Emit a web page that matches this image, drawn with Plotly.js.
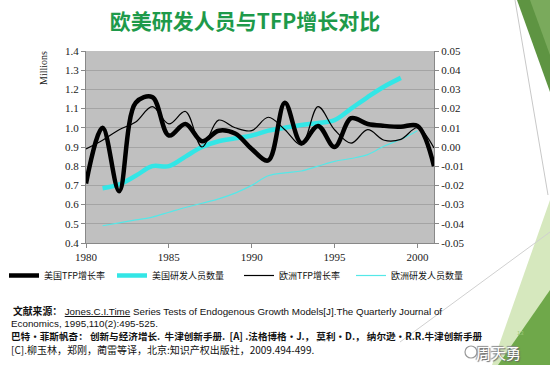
<!DOCTYPE html>
<html><head><meta charset="utf-8">
<script src="https://cdn.plot.ly/plotly-3.0.1.min.js"></script>
<style>html,body{margin:0;padding:0;background:#fff}#c{width:550px;height:365px}</style>
</head><body><div id="c"></div>
<script>
// Years
const years = [1980,1981,1982,1983,1984,1985,1986,1987,1988,1989,1990,1991,1992,1993,1994,1995,1996,1997,1998,1999,2000,2001];
// US TFP growth rate (right axis)
const usTFP = [-0.019,0.010,-0.023,0.023,0.026,0.006,0.012,0.003,0.0085,0.007,-0.001,-0.007,0.023,0.002,0.011,0.000,0.015,0.012,0.011,0.0105,0.011,-0.010];
// EU TFP growth rate (right axis)
const euTFP = [-0.001,0.0035,0.009,0.013,0.021,0.012,0.0185,0.000,0.014,0.010,0.0085,0.0155,0.009,0.001,0.021,0.009,0.002,0.009,0.0035,0.004,0.010,-0.0005];
// US R&D personnel (millions, left axis) 1981-1999
const usRDyears = [1981,1982,1983,1984,1985,1986,1987,1988,1989,1990,1991,1992,1993,1994,1995,1996,1997,1998,1999];
const usRD = [0.685,0.705,0.75,0.80,0.80,0.85,0.90,0.93,0.945,0.96,0.985,1.0,1.015,1.025,1.04,1.10,1.16,1.215,1.26];
// EU R&D personnel (millions, left axis) 1981-2000
const euRDyears = [1981,1982,1983,1984,1985,1986,1987,1988,1989,1990,1991,1992,1993,1994,1995,1996,1997,1998,1999,2000];
const euRD = [0.49,0.505,0.52,0.535,0.56,0.585,0.607,0.63,0.66,0.70,0.75,0.765,0.775,0.80,0.825,0.84,0.86,0.905,0.94,0.985];
// Legend names
const names = ['美国TFP增长率','美国研发人员数量','欧洲TFP增长率','欧洲研发人员数量'];
const leftTicks = [0.4,0.5,0.6,0.7,0.8,0.9,1.0,1.1,1.2,1.3,1.4];
const rightTicks = [-0.05,-0.04,-0.03,-0.02,-0.01,0,0.01,0.02,0.03,0.04,0.05];
const xTicks = [1980,1985,1990,1995,2000];

const sp = {shape:'spline', smoothing:1};
const traces = [
  {x:years, y:usTFP, yaxis:'y2', name:names[0], legend:'legend', mode:'lines', line:Object.assign({color:'#000000', width:4.5}, sp)},
  {x:usRDyears, y:usRD, yaxis:'y', name:names[1], legend:'legend2', mode:'lines', line:Object.assign({color:'#33E6E6', width:4.5}, sp)},
  {x:years, y:euTFP, yaxis:'y2', name:names[2], legend:'legend3', mode:'lines', line:Object.assign({color:'#000000', width:1.2}, sp)},
  {x:euRDyears, y:euRD, yaxis:'y', name:names[3], legend:'legend4', mode:'lines', line:Object.assign({color:'#55E8E8', width:1.2}, sp)}
];

const serif = {family:'Liberation Serif, serif', size:11, color:'#222'};
const cjk = 'Noto Sans CJK SC, sans-serif';
function px(x){return (x-86)/348;}
function py(y){return (243-y)/192;}
function path(pts){return 'M'+pts.map(p=>px(p[0])+','+py(p[1])).join(' L')+' Z';}
function leg(xpix){
  return {orientation:'h', xref:'container', x:xpix/550, xanchor:'left', yref:'container', y:1-261/365, yanchor:'top', font:{family:cjk, size:9, color:'#111'}, itemwidth:30, bgcolor:'rgba(0,0,0,0)'};
}

const layout = {
  width:550, height:365,
  margin:{l:86, r:116, t:51, b:122},
  paper_bgcolor:'#ffffff', plot_bgcolor:'#C0C0C0',
  title:{text:'<b>欧美研发人员与TFP增长对比</b>', font:{family:cjk, size:21, color:'#1E9A4A'}, xref:'container', x:245/550, xanchor:'center', yref:'container', y:1-22/365, yanchor:'middle'},
  showlegend:true,
  legend:leg(4), legend2:leg(112), legend3:leg(239), legend4:leg(351),
  xaxis:{range:[1980,2001], tickvals:xTicks, ticks:'outside', ticklen:4, tickcolor:'#888', showgrid:false, zeroline:false, showline:true, linecolor:'#888', tickfont:serif},
  yaxis:{range:[0.4,1.4], tickvals:leftTicks, ticktext:leftTicks.map(v=>v.toFixed(1)), ticks:'outside', ticklen:4, tickcolor:'#888', showgrid:true, gridcolor:'#A4A4A4', gridwidth:1, zeroline:false, showline:true, linecolor:'#888', tickfont:serif},
  yaxis2:{range:[-0.05,0.05], overlaying:'y', side:'right', tickvals:rightTicks, ticktext:rightTicks.map(v=>v.toFixed(2)), ticks:'outside', ticklen:4, tickcolor:'#888', showgrid:false, zeroline:false, showline:true, linecolor:'#888', tickfont:serif},
  annotations:[
    {text:'Millions', xref:'paper', yref:'paper', x:px(43), y:py(68), xanchor:'center', yanchor:'middle', textangle:-90, showarrow:false, font:{family:'Liberation Serif, serif', size:10, color:'#222'}},
    {text:'<b>文献来源：</b> <span style="text-decoration:underline">Jones.C.I.Time</span> Series Tests of Endogenous Growth Models[J].The Quarterly Journal of', xref:'paper', yref:'paper', x:px(12), y:py(310.5), xanchor:'left', yanchor:'middle', showarrow:false, borderpad:0, align:'left', font:{family:'Liberation Sans, '+cjk, size:9.8, color:'#111'}},
    {text:'Economics, 1995,110(2):495-525.', xref:'paper', yref:'paper', x:px(10), y:py(323.5), xanchor:'left', yanchor:'middle', showarrow:false, borderpad:0, align:'left', font:{family:'Liberation Sans, sans-serif', size:9.8, color:'#111'}},
    {text:'<b>巴特•菲斯帆奇： 创新与经济增长.  牛津创新手册.  [A] .法格博格·J.， 莫利·D.， 纳尔逊·R.R.牛津创新手册</b>', xref:'paper', yref:'paper', x:px(10), y:py(335.5), xanchor:'left', yanchor:'middle', showarrow:false, borderpad:0, align:'left', font:{family:cjk, size:9.6, color:'#111'}},
    {text:'13', xref:'paper', yref:'paper', x:px(516), y:py(333), xanchor:'left', yanchor:'middle', showarrow:false, borderpad:0, font:{family:'Liberation Sans, sans-serif', size:6, color:'#9BC87A'}},
    {text:'[C].柳玉林，郑刚，蔺雷等译，北京:知识产权出版社，2009.494-499.', xref:'paper', yref:'paper', x:px(10), y:py(349), xanchor:'left', yanchor:'middle', showarrow:false, borderpad:0, align:'left', font:{family:cjk, size:10, color:'#111'}},
    {text:'周天勇', xref:'paper', yref:'paper', x:px(498), y:py(352), xanchor:'center', yanchor:'middle', showarrow:false, borderpad:0, font:{family:cjk, size:15, color:'#FFFFFF', shadow:'1px 1px 1px #666, -1px -1px 1px #888'}}
  ],
  shapes:[
    {type:'path', xref:'paper', yref:'paper', path:path([[517,0],[550,0],[550,92]]), fillcolor:'#5E9442', line:{width:0}, layer:'above'},
    {type:'path', xref:'paper', yref:'paper', path:path([[530,0],[550,0],[550,55]]), fillcolor:'#7AAA5C', line:{width:0}, layer:'above'},
    {type:'line', xref:'paper', yref:'paper', x0:px(515), y0:py(0), x1:px(548), y1:py(195), line:{color:'#C8C8C8', width:1}, layer:'above'},
    {type:'path', xref:'paper', yref:'paper', path:path([[492,365],[550,365],[550,200]]), fillcolor:'#D6E8BE', line:{width:0}, layer:'below'},
    {type:'path', xref:'paper', yref:'paper', path:path([[498,365],[550,365],[550,290]]), fillcolor:'#6FA84A', line:{width:0}, layer:'below'},
    {type:'line', xref:'paper', yref:'paper', x0:px(400), y0:py(342), x1:px(550), y1:py(232), line:{color:'#D0D0D0', width:1}, layer:'below'},
    {type:'circle', xref:'paper', yref:'paper', x0:px(465), y0:py(346), x1:px(477), y1:py(358), line:{color:'#999999', width:1.2}, fillcolor:'rgba(0,0,0,0)', layer:'above'}
  ]
};

Plotly.newPlot('c', traces, layout, {staticPlot:true, displayModeBar:false});
</script>
</body></html>
